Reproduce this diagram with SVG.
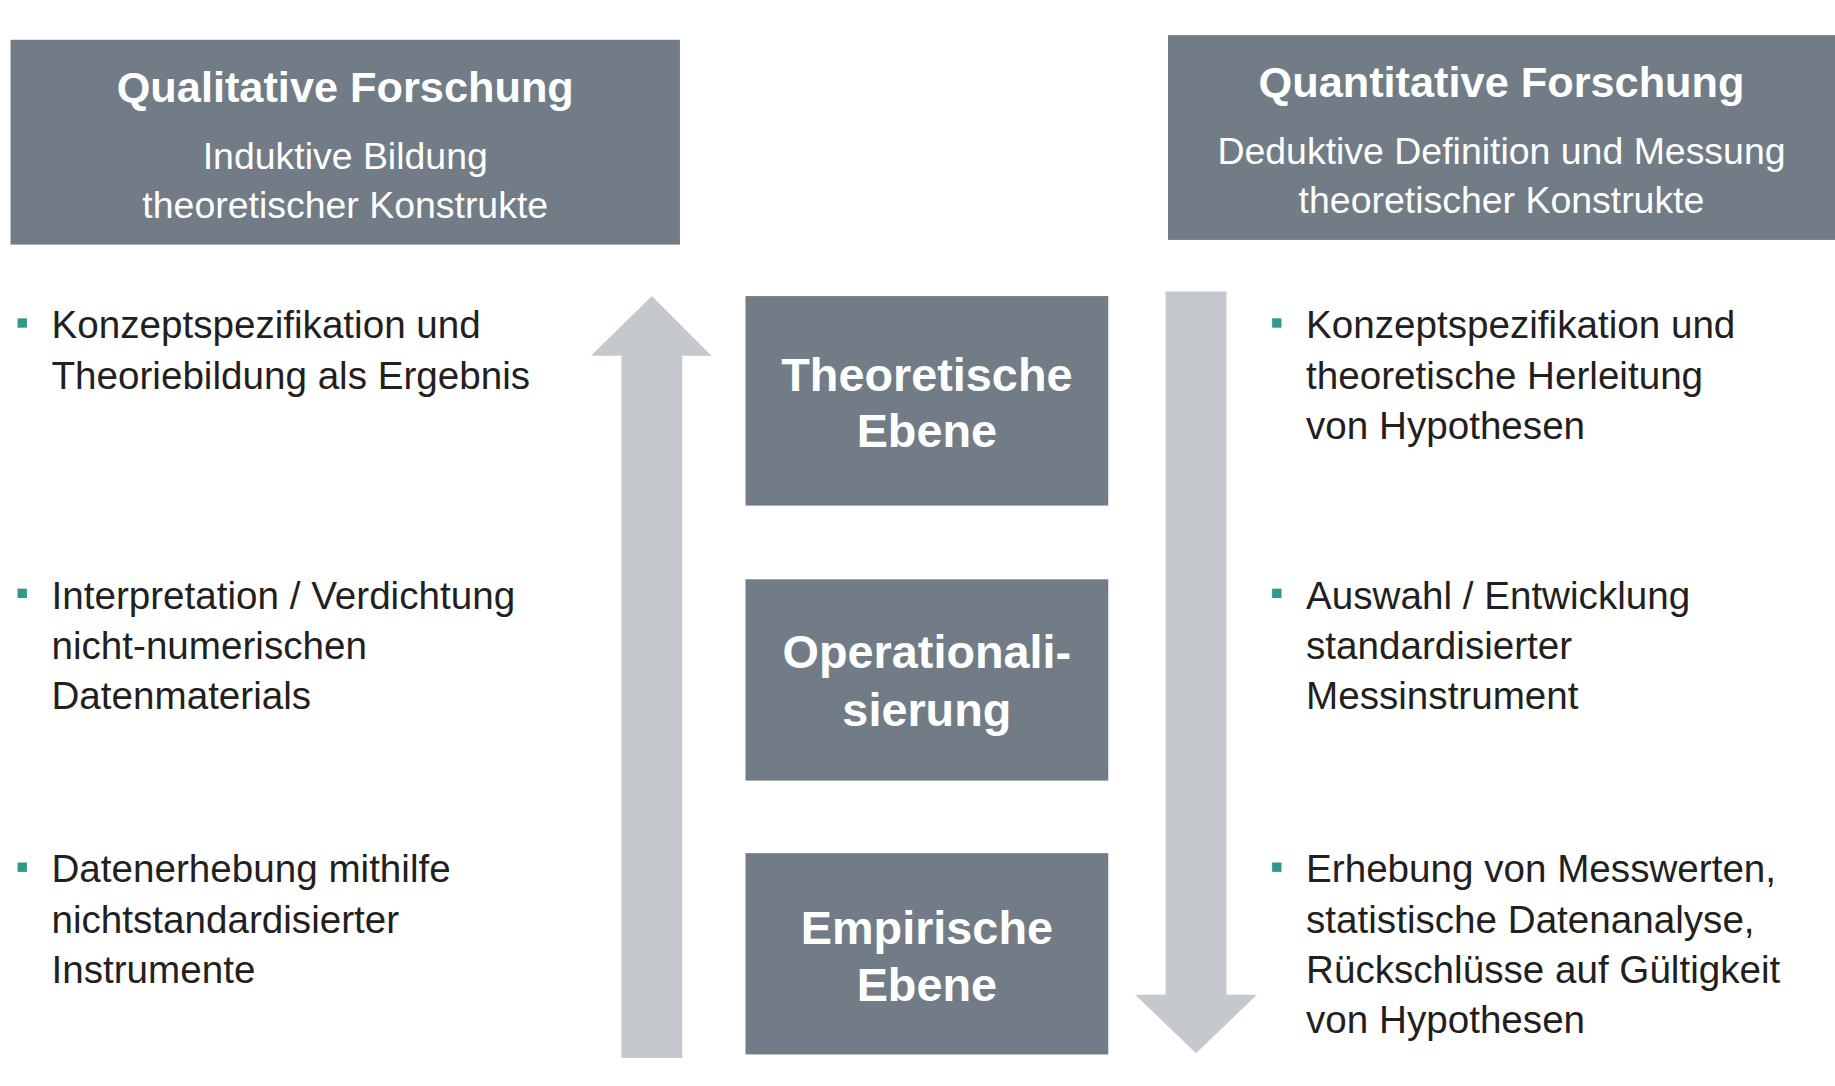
<svg xmlns="http://www.w3.org/2000/svg" width="1835" height="1086" viewBox="0 0 1835 1086">
<style>
.box{fill:#717c86}
.arr{fill:#c5c9cd}
.ht{font-family:"Liberation Sans",Arial,sans-serif;fill:#fff;text-anchor:middle}
.t1{font-size:37px;font-weight:bold}
.t2{font-size:32px}
.ct{font-size:40px;font-weight:bold}
.bt{font-family:"Liberation Sans",Arial,sans-serif;font-size:33px;fill:#231f20}
.bl{fill:#2e9a8a}
</style>
<rect width="1835" height="1086" fill="#fff"/>
<g transform="scale(1.1703)">
<g id="qual">
<rect class="box" x="9" y="34" width="572" height="175"/>
<text class="ht t1" x="295" y="87">Qualitative Forschung</text>
<text class="ht t2" x="295" y="144">Induktive Bildung</text>
<text class="ht t2" x="295" y="186">theoretischer Konstrukte</text>
</g>
<g id="quant">
<rect class="box" x="998" y="30" width="572" height="175"/>
<text class="ht t1" x="1283" y="83">Quantitative Forschung</text>
<text class="ht t2" x="1283" y="140">Deduktive Definition und Messung</text>
<text class="ht t2" x="1283" y="182">theoretischer Konstrukte</text>
</g>
<g id="connectors">
<polygon class="arr" points="531,904 583,904 583,304 608,304 557,253 505,304 531,304"/>
<polygon class="arr" points="996,249 1048,249 1048,850 1074,850 1022,900 970,850 996,850"/>
</g>
<g id="theo">
<rect class="box" x="637" y="253" width="310" height="179"/>
<text class="ht ct" x="792" y="334">Theoretische</text>
<text class="ht ct" x="792" y="382">Ebene</text>
</g>
<g id="oper">
<rect class="box" x="637" y="495" width="310" height="172"/>
<text class="ht ct" x="792" y="571">Operationali-</text>
<text class="ht ct" x="792" y="620">sierung</text>
</g>
<g id="emp">
<rect class="box" x="637" y="729" width="310" height="172"/>
<text class="ht ct" x="792" y="807">Empirische</text>
<text class="ht ct" x="792" y="855">Ebene</text>
</g>
<g id="left-bullets">
<rect class="bl" x="15" y="272" width="8" height="8"/>
<text class="bt" x="44" y="289">Konzeptspezifikation und</text>
<text class="bt" x="44" y="332">Theoriebildung als Ergebnis</text>
<rect class="bl" x="15" y="503" width="8" height="8"/>
<text class="bt" x="44" y="520">Interpretation / Verdichtung</text>
<text class="bt" x="44" y="563">nicht-numerischen</text>
<text class="bt" x="44" y="606">Datenmaterials</text>
<rect class="bl" x="15" y="737" width="8" height="8"/>
<text class="bt" x="44" y="754">Datenerhebung mithilfe</text>
<text class="bt" x="44" y="797">nichtstandardisierter</text>
<text class="bt" x="44" y="840">Instrumente</text>
</g>
<g id="right-bullets">
<rect class="bl" x="1087" y="272" width="8" height="8"/>
<text class="bt" x="1116" y="289">Konzeptspezifikation und</text>
<text class="bt" x="1116" y="332">theoretische Herleitung</text>
<text class="bt" x="1116" y="375">von Hypothesen</text>
<rect class="bl" x="1087" y="503" width="8" height="8"/>
<text class="bt" x="1116" y="520">Auswahl / Entwicklung</text>
<text class="bt" x="1116" y="563">standardisierter</text>
<text class="bt" x="1116" y="606">Messinstrument</text>
<rect class="bl" x="1087" y="737" width="8" height="8"/>
<text class="bt" x="1116" y="754">Erhebung von Messwerten,</text>
<text class="bt" x="1116" y="797">statistische Datenanalyse,</text>
<text class="bt" x="1116" y="840">Rückschlüsse auf Gültigkeit</text>
<text class="bt" x="1116" y="883">von Hypothesen</text>
</g>
</g>
</svg>
